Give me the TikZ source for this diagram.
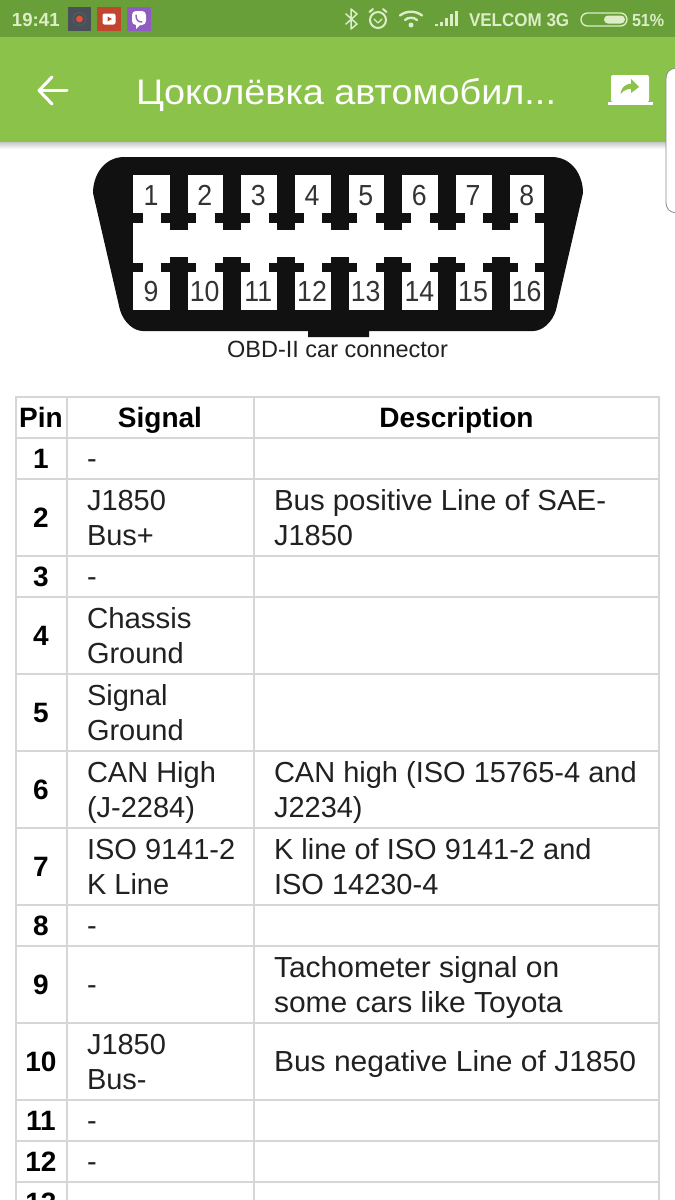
\documentclass[tikz,border=0pt]{standalone}
\usepackage{fontspec}
\setmainfont{Liberation Sans}
\newfontfamily\pinfont[FakeStretch=0.92]{Liberation Sans}
\newfontfamily\barfont[FakeStretch=0.98]{Liberation Sans}
\newfontfamily\barnarrow[FakeStretch=0.92]{Liberation Sans}
\newfontfamily\titlefont[FakeStretch=1.065]{Liberation Sans}
\newfontfamily\widefont[FakeStretch=1.035]{Liberation Sans}
\newfontfamily\slightfont[FakeStretch=1.015]{Liberation Sans}
\usetikzlibrary{shadings}
\definecolor{barGreen}{HTML}{689F38}
\definecolor{headGreen}{HTML}{8BC34A}
\definecolor{barText}{HTML}{DCEDC8}
\definecolor{gridGrey}{HTML}{D6D6D6}
\definecolor{inkText}{HTML}{212121}
\definecolor{pinInk}{HTML}{333333}
\definecolor{bodyBlack}{HTML}{111111}
\definecolor{recBox}{HTML}{4A5058}
\definecolor{recDot}{HTML}{F04E30}
\definecolor{tubeBox}{HTML}{C2452D}
\definecolor{viberBox}{HTML}{8E5CC2}
\tikzset{
  x=1pt,y=-1pt,
  txt/.style={anchor=base west,inner sep=0pt,outer sep=0pt,text=inkText,font=\fontsize{29}{35}\selectfont},
  txtw/.style={txt,font=\fontsize{29}{35}\widefont},
  txts/.style={txt,font=\fontsize{29}{35}\slightfont},
  hdr/.style={anchor=base,inner sep=0pt,outer sep=0pt,text=black,font=\fontsize{28}{35}\selectfont\bfseries},
  pinnum/.style={anchor=base,inner sep=0pt,outer sep=0pt,text=pinInk,font=\fontsize{29}{29}\pinfont},
  bartxt/.style={anchor=base west,inner sep=0pt,outer sep=0pt,text=barText,font=\fontsize{19}{19}\barfont\bfseries},
  bartxtn/.style={bartxt,font=\fontsize{18.5}{19}\barnarrow\bfseries},
  grid/.style={draw=gridGrey,line width=2pt},
  baricon/.style={draw=barText,line width=2pt,line cap=round,line join=round},
}
\begin{document}
\begin{tikzpicture}
\clip (0,0) rectangle (675,1200);
\fill[white] (0,0) rectangle (675,1200);
% ---- header
\fill[barGreen] (0,0) rectangle (675,37);
\fill[headGreen] (0,37) rectangle (675,142);
\shade[top color=black!22,bottom color=white] (0,142) rectangle (675,149);
% side card
\filldraw[fill=white,draw=black!45,line width=.8pt] (677,68) -- (676,68) .. controls (669,69) and (666,72) .. (666,80) -- (666,201) .. controls (666,209) and (669,212) .. (676,213) -- (677,213);
% status bar left
\node[bartxt] (clock) at (12,26.5) {19:41};
\fill[recBox] (68,7) rectangle (91,31);
\draw[black!35!recBox!80!white,line width=.8pt] (79.5,19) circle (6.5);
\fill[recDot] (79.5,19) circle (3.4);
\fill[tubeBox] (97,7) rectangle (121,31);
\fill[white,rounded corners=2pt] (102.5,13.5) rectangle (115.5,24.5);
\fill[tubeBox] (107.5,16.5) -- (112,19) -- (107.5,21.5) -- cycle;
\fill[viberBox] (127,7) rectangle (151,31);
\fill[white,rounded corners=4pt] (132,11) rectangle (146,25);
\fill[white] (136,24) -- (136,29) -- (141,24) -- cycle;
\draw[viberBox,line width=1.4pt,line cap=round] (136,15) .. controls (136,20) and (138,22) .. (142,22);
% status bar right
\draw[baricon,line width=1.5pt] (346,14) -- (357,24) -- (351,29) -- (351,9) -- (357,14) -- (346,24);
\draw[baricon] (378,20) circle (8);
\draw[baricon,line width=1.4pt] (374,19) -- (378,23) -- (382,19);
\draw[baricon] (369.5,12) -- (373,9);
\draw[baricon] (386.5,12) -- (383,9);
\fill[barText] (411,25) circle (2.5);
\draw[baricon,line width=2.4pt] (405,20) .. controls (408,17) and (414,17) .. (417,20);
\draw[baricon,line width=2.4pt] (400,15.5) .. controls (406,10.5) and (416,10.5) .. (422,15.5);
\foreach \bx/\bt in {435/24,440/22,445/18,450/14,455/11}{\fill[barText] (\bx,\bt) rectangle ++(3.4,26-\bt);}
\node[bartxtn] (carrier) at (469,26.5) {VELCOM 3G};
\draw[barText,line width=1.3pt,rounded corners=6.5pt] (581,13) rectangle (627,26);
\fill[barText,rounded corners=4pt] (604,15.5) rectangle (625,23.5);
\node[bartxt,font=\fontsize{17.5}{19}\barnarrow\bfseries] (batt) at (632,26.5) {51\%};
% app bar
\draw[white,line width=3pt,line cap=round,line join=round] (67,90.5) -- (39,90.5);
\draw[white,line width=3pt,line cap=round,line join=round] (52,77) -- (39,90.5) -- (52,104);
\node[anchor=base west,inner sep=0pt,text=white,font=\fontsize{35.5}{40}\titlefont] (title) at (136,104) {Цоколёвка автомобил...};
\fill[white,rounded corners=2pt] (611,75) rectangle (649,102);
\fill[white] (608,102) rectangle (653,105);
\fill[headGreen] (620.5,94) .. controls (621,87) and (626,84) .. (631,83.5) -- (631,79) -- (639,87) -- (631,93) -- (631,89) .. controls (627,89) and (624,90) .. (620.5,94) -- cycle;
% ---- connector
\filldraw[fill=bodyBlack,draw=none] (123,157) -- (553,157) .. controls (573,158) and (583,176) .. (583,193) -- (556,310) .. controls (552,323) and (542,331) .. (533,331) -- (369,331) -- (369,337) -- (308,337) -- (308,331) -- (143,331) .. controls (134,331) and (124,323) .. (120,310) -- (93,193) .. controls (93,176) and (103,158) .. (123,157) -- cycle;
\fill[white] (132.7,175) rectangle (544.3,310.3);
\fill[bodyBlack] (132.7,213) rectangle (143,223);
\fill[bodyBlack] (535,213) rectangle (544.3,223);
\fill[bodyBlack] (132.7,263) rectangle (143,272);
\fill[bodyBlack] (535,263) rectangle (544.3,272);
\foreach \k in {0,...,6}{
  \pgfmathsetmacro{\cx}{178.7+53.67*\k}
  \fill[bodyBlack] (\cx-9,175) rectangle (\cx+9,230);
  \fill[bodyBlack] (\cx-17.5,213) rectangle (\cx+17.5,223);
  \fill[bodyBlack] (\cx-9,257) rectangle (\cx+9,310.3);
  \fill[bodyBlack] (\cx-17.5,263) rectangle (\cx+17.5,272);
}
\foreach \k/\lab in {0/1,1/2,2/3,3/4,4/5,5/6,6/7,7/8}{
  \pgfmathsetmacro{\cx}{151+53.67*\k}
  \node[pinnum] (up\lab) at (\cx,205) {\lab};
}
\foreach \k/\lab in {0/9,1/10,2/11,3/12,4/13,5/14,6/15,7/16}{
  \pgfmathsetmacro{\cx}{151+53.67*\k}
  \node[pinnum] (low\lab) at (\cx,301) {\lab};
}
\node[anchor=base,inner sep=0pt,text=inkText,font=\fontsize{23.5}{26}\selectfont] (caption) at (337.5,357) {OBD-II car connector};
% ---- table grid
\foreach \yy in {397,438,479,556,597,674,751,828,905,946,1023,1100,1141,1182}{
  \draw[grid] (15,\yy) -- (660,\yy);
}
\foreach \xx in {16,67,254,659}{
  \draw[grid] (\xx,396) -- (\xx,1201);
}
% headers
\node[hdr] (hPin) at (41,427) {Pin};
\node[hdr] (hSig) at (160,427) {Signal};
\node[hdr] (hDes) at (456.5,427) {Description};
% pin numbers
\foreach \n/\yc in {1/458.5,2/517.5,3/576.5,4/635.5,5/712.5,6/789.5,7/866.5,8/925.5,9/984.5,10/1061.5,11/1120.5,12/1161.5,13/1202.5}{
  \node[hdr] (p\n) at (41,\yc+10) {\n};
}
% signal column
\node[txt] (s1) at (87,468.5) {-};
\node[txt] (s2a) at (87,510) {J1850};
\node[txt] (s2b) at (87,545) {Bus+};
\node[txt] (s3) at (87,586.5) {-};
\node[txts] (s4a) at (87,628) {Chassis};
\node[txt] (s4b) at (87,663) {Ground};
\node[txt] (s5a) at (87,705) {Signal};
\node[txt] (s5b) at (87,740) {Ground};
\node[txt] (s6a) at (87,782) {CAN High};
\node[txt] (s6b) at (87,817) {(J-2284)};
\node[txt] (s7a) at (87,859) {ISO 9141-2};
\node[txt] (s7b) at (87,894) {K Line};
\node[txt] (s8) at (87,935.5) {-};
\node[txt] (s9) at (87,994.5) {-};
\node[txt] (s10a) at (87,1054) {J1850};
\node[txt] (s10b) at (87,1089) {Bus-};
\node[txt] (s11) at (87,1130.5) {-};
\node[txt] (s12) at (87,1171.5) {-};
% description column
\node[txts] (d2a) at (274,510) {Bus positive Line of SAE-};
\node[txt] (d2b) at (274,545) {J1850};
\node[txt] (d6a) at (274,782) {CAN high (ISO 15765-4 and};
\node[txt] (d6b) at (274,817) {J2234)};
\node[txt] (d7a) at (274,859) {K line of ISO 9141-2 and};
\node[txt] (d7b) at (274,894) {ISO 14230-4};
\node[txtw] (d9a) at (274,977) {Tachometer signal on};
\node[txtw] (d9b) at (274,1012) {some cars like Toyota};
\node[txtw] (d10) at (274,1071.5) {Bus negative Line of J1850};
\end{tikzpicture}
\end{document}
